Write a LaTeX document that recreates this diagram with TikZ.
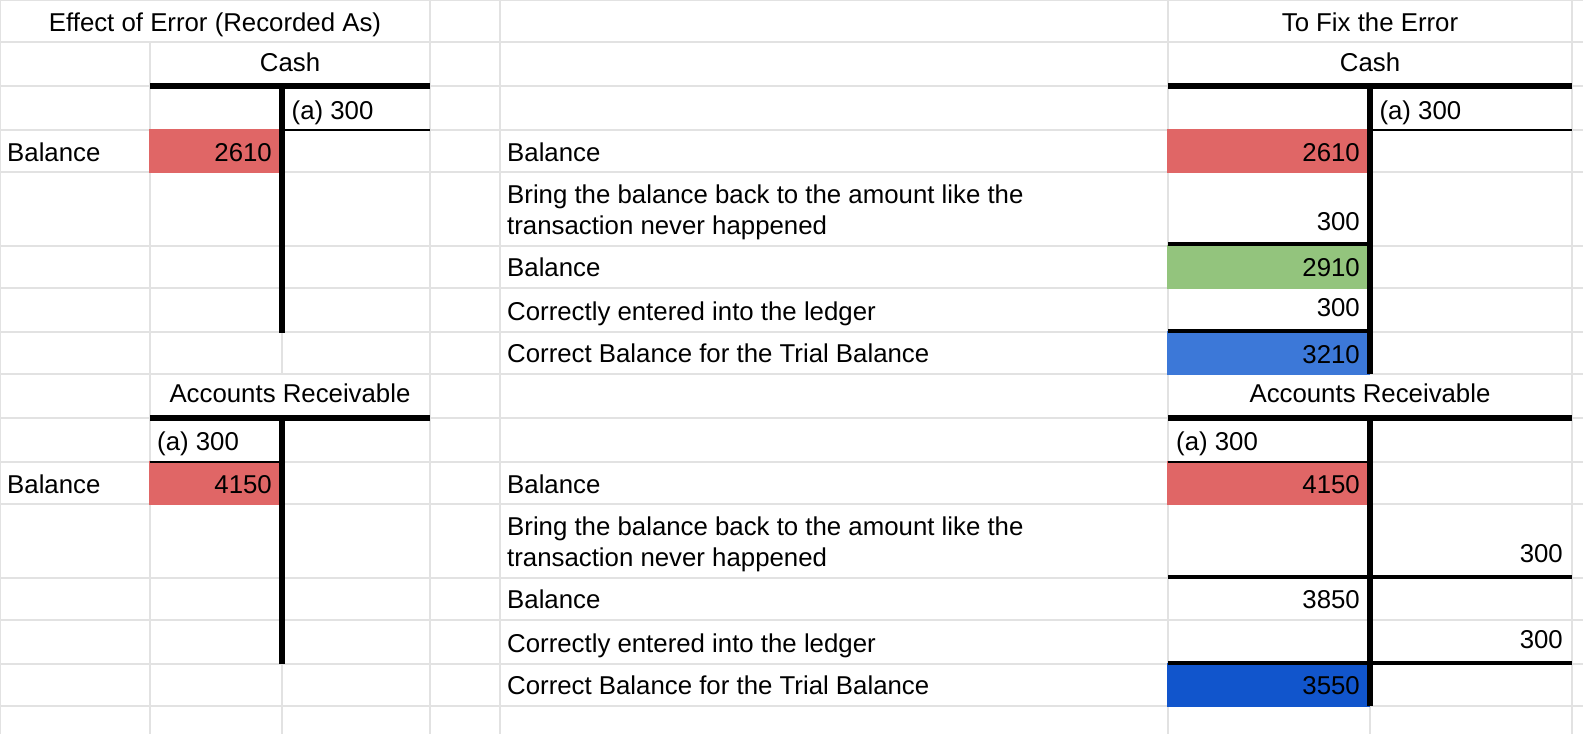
\documentclass[tikz,border=0pt]{standalone}
\usepackage{fontspec}
\setmainfont{Liberation Sans}
\definecolor{gridgray}{RGB}{226,226,226}
\definecolor{cellred}{RGB}{224,102,102}
\definecolor{cellgreen}{RGB}{147,196,125}
\definecolor{cellblue}{RGB}{60,120,216}
\definecolor{celldarkblue}{RGB}{17,85,204}
\tikzset{
  txt/.style={inner sep=0pt, font=\fontsize{25.8pt}{31pt}\selectfont},
  lft/.style={txt, anchor=base west},
  rgt/.style={txt, anchor=base east},
  ctr/.style={txt, anchor=base},
  gridline/.style={draw=gridgray, line width=2pt},
  thickrule/.style={draw=black, line width=6pt},
  medrule/.style={draw=black, line width=4pt},
  thinrule/.style={draw=black, line width=2pt},
}
\begin{document}
\begin{tikzpicture}[x=1pt, y=-1pt]
\useasboundingbox (0,0) rectangle (1583,734);
\fill[white] (0,0) rectangle (1583,734);
% horizontal grid
\foreach \yy in {0,42,86,130,172,246,288,332,374,418,462,504,578,620,664,706}
  \draw[gridline] (0,\yy) -- (1583,\yy);
% vertical grid
\foreach \xx in {0,430,500,1168,1572}
  \draw[gridline] (\xx,0) -- (\xx,734);
\draw[gridline] (150,42) -- (150,734);
\draw[gridline] (282,86) -- (282,374);
\draw[gridline] (282,418) -- (282,734);
\draw[gridline] (1370,86) -- (1370,374);
\draw[gridline] (1370,418) -- (1370,734);
% coloured cells
\fill[cellred] (149,129) rectangle (282,173);
\fill[cellred] (149,461) rectangle (282,505);
\fill[cellred] (1167,129) rectangle (1370,173);
\fill[cellred] (1167,461) rectangle (1370,505);
\fill[cellgreen] (1167,245) rectangle (1370,289);
\fill[cellblue] (1167,331) rectangle (1370,375);
\fill[celldarkblue] (1167,663) rectangle (1370,707);
% T-accounts: left Cash
\draw[thickrule] (150,86) -- (430,86);
\draw[thickrule] (282,86) -- (282,332.5);
\draw[thinrule] (282,130) -- (430,130);
% left Accounts Receivable
\draw[thickrule] (150,418) -- (430,418);
\draw[thickrule] (282,418) -- (282,664);
\draw[thinrule] (150,461.5) -- (282,461.5);
% right Cash
\draw[thickrule] (1168,86) -- (1572,86);
\draw[thickrule] (1370,86) -- (1370,374);
\draw[thinrule] (1370,130) -- (1572,130);
\draw[medrule] (1168,244) -- (1370,244);
\draw[medrule] (1168,331) -- (1370,331);
% right Accounts Receivable
\draw[thickrule] (1168,418) -- (1572,418);
\draw[thickrule] (1370,418) -- (1370,706);
\draw[thinrule] (1168,461.5) -- (1370,461.5);
\draw[medrule] (1168,577) -- (1572,577);
\draw[medrule] (1168,663) -- (1572,663);
% texts: headings
\node[ctr] (title1) at (215,31) {Effect of Error (Recorded As)};
\node[ctr] (title2) at (1370,31) {To Fix the Error};
\node[ctr] (cashL) at (290,71.7) {Cash};
\node[ctr] (cashR) at (1370,71.7) {Cash};
\node[ctr] (arL) at (290,402.7) {Accounts Receivable};
\node[ctr] (arR) at (1370,402.7) {Accounts Receivable};
% left side
\node[lft] (aCashL) at (291.5,119.5) {(a) 300};
\node[lft] (balL1) at (7,161.7) {Balance};
\node[rgt] (v2610L) at (272,161.7) {2610};
\node[lft] (aArL) at (157,450.7) {(a) 300};
\node[lft] (balL2) at (7,493.3) {Balance};
\node[rgt] (v4150L) at (272,493.3) {4150};
% middle descriptions (Cash)
\node[lft] (m3) at (507,161.7) {Balance};
\node[lft] (m4a) at (507,203) {Bring the balance back to the amount like the};
\node[lft] (m4b) at (507,234) {transaction never happened};
\node[lft] (m5) at (507,276.7) {Balance};
\node[lft] (m6) at (507,320) {Correctly entered into the ledger};
\node[lft] (m7) at (507,362.5) {Correct Balance for the Trial Balance};
% middle descriptions (AR)
\node[lft] (m10) at (507,493.3) {Balance};
\node[lft] (m11a) at (507,535) {Bring the balance back to the amount like the};
\node[lft] (m11b) at (507,566) {transaction never happened};
\node[lft] (m12) at (507,608.5) {Balance};
\node[lft] (m13) at (507,652) {Correctly entered into the ledger};
\node[lft] (m14) at (507,694.5) {Correct Balance for the Trial Balance};
% right Cash values
\node[lft] (aCashR) at (1379.3,119.5) {(a) 300};
\node[rgt] (v2610R) at (1360,161.7) {2610};
\node[rgt] (v300a) at (1360,230.7) {300};
\node[rgt] (v2910) at (1360,276.7) {2910};
\node[rgt] (v300b) at (1360,316.7) {300};
\node[rgt] (v3210) at (1360,363) {3210};
% right AR values
\node[lft] (aArR) at (1176,450.7) {(a) 300};
\node[rgt] (v4150R) at (1360,493.3) {4150};
\node[rgt] (v300c) at (1563,562.7) {300};
\node[rgt] (v3850) at (1360,608.3) {3850};
\node[rgt] (v300d) at (1563,648.3) {300};
\node[rgt] (v3550) at (1360,694.3) {3550};
\end{tikzpicture}
\end{document}
